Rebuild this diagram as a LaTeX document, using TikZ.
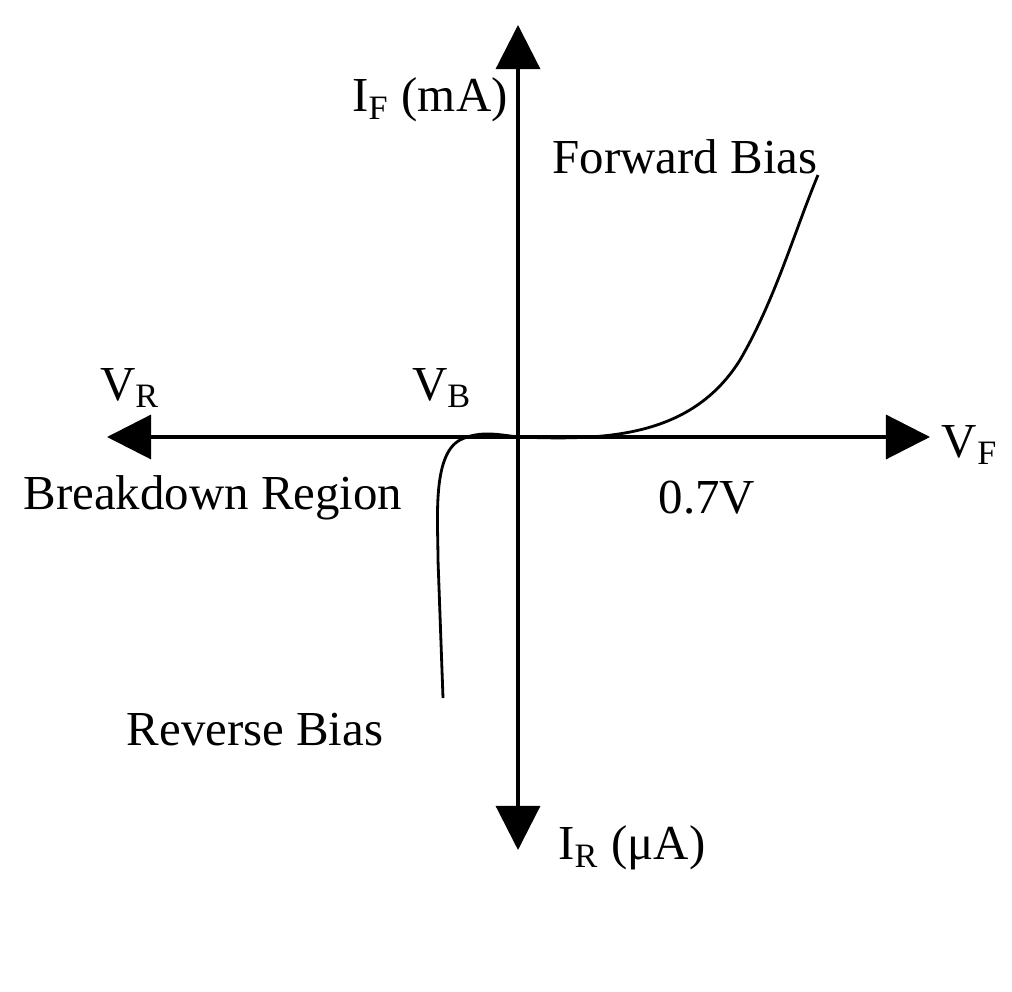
\documentclass[tikz,border=0pt]{standalone}
\usepackage{fontspec}
\setmainfont{Liberation Serif}
\usetikzlibrary{arrows.meta}
\tikzset{
  axis/.style={line width=0.9pt,-{Triangle[length=0.44cm,width=0.44cm]}},
  curve/.style={line width=0.8pt},
  lbl/.style={font=\fontsize{13.9}{15}\selectfont,inner sep=0pt}
}
\begin{document}
\begin{tikzpicture}[x=0.01cm,y=-0.01cm]
\useasboundingbox (0,0) rectangle (1012,992);
% axes
\coordinate (o) at (518,437);
\coordinate (vr) at (107,437);
\coordinate (vf) at (930,437);
\coordinate (iff) at (518,25);
\coordinate (ir) at (518,850);
\draw[axis] (o) -- (vr);
\draw[axis] (o) -- (vf);
\draw[axis] (o) -- (iff);
\draw[axis] (o) -- (ir);
% characteristic
\coordinate (fwd) at (818,175);
\coordinate (rev) at (443,698);
\draw[curve] (o) .. controls (600,440) and (690,440) .. (740,360)
  .. controls (775,300) and (795,230) .. (fwd);
\draw[curve] (o) .. controls (500,435) and (480,430) .. (460,440)
  .. controls (432,455) and (438,520) .. (438,560) -- (rev);
% labels
\node[lbl] (lif) at (430,100) {I\textsubscript{F} (mA)};
\node[lbl] (lfb) at (685,157) {Forward Bias};
\node[lbl] (lvr) at (130,388) {V\textsubscript{R}};
\node[lbl] (lvb) at (442,388) {V\textsubscript{B}};
\node[lbl] (lvf) at (970,445) {V\textsubscript{F}};
\node[lbl] (lbr) at (213,498) {Breakdown Region};
\node[lbl] (l07) at (707,498) {0.7V};
\node[lbl] (lrb) at (255,730) {Reverse Bias};
\node[lbl] (lir) at (632,848) {I\textsubscript{R} (μA)};
\end{tikzpicture}
\end{document}
